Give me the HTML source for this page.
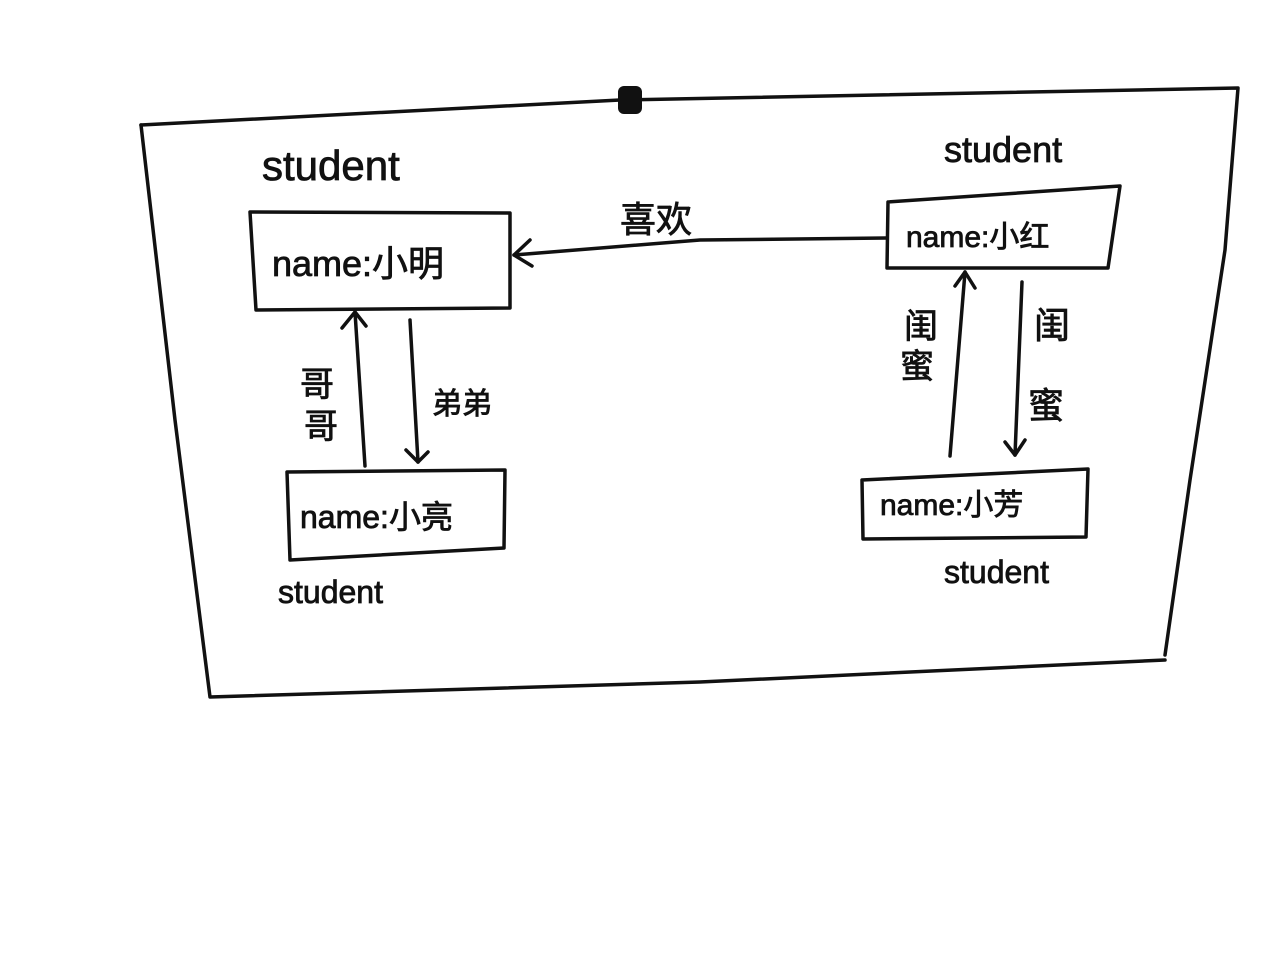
<!DOCTYPE html>
<html><head><meta charset="utf-8"><style>
html,body{margin:0;padding:0;background:#fff;width:1280px;height:960px;overflow:hidden}
text{font-family:"Liberation Sans","Noto Sans CJK SC",sans-serif;fill:#111}
</style></head><body>
<svg width="1280" height="960" viewBox="0 0 1280 960" xmlns="http://www.w3.org/2000/svg">
<g fill="none" stroke="#111" stroke-width="3.5" stroke-linecap="round" stroke-linejoin="round">
<path d="M141,125 L620,100 L1238,88 L1225,250 L1190,480 L1165,655"/>
<path d="M141,125 L175,420 L210,697 L700,682 L1165,660"/>
<path d="M250,212 L510,213 L510,308 L256,310 Z"/>
<path d="M287,472 L505,470 L504,548 L290,560 Z"/>
<path d="M888,202 L1120,186 L1108,268 L887,268 Z"/>
<path d="M862,480 L1088,469 L1086,537 L863,539 Z"/>
<path d="M886,238 L700,240 L514,255"/>
<path d="M530,240 L514,255 L532,266"/>
<path d="M365,466 L355,312"/>
<path d="M342,328 L355,312 L366,326"/>
<path d="M410,320 L418,462"/>
<path d="M406,450 L418,462 L428,452"/>
<path d="M950,456 L965,272"/>
<path d="M955,286 L965,272 L975,288"/>
<path d="M1022,282 L1015,455"/>
<path d="M1005,442 L1015,455 L1025,440"/>
</g>
<rect x="618" y="86" width="24" height="28" rx="6" fill="#111"/>
<g stroke="#111" stroke-width="0.8">
<text x="262" y="180" font-size="42">student</text>
<text x="944" y="162" font-size="36">student</text>
<text x="278" y="603" font-size="32">student</text>
<text x="944" y="583" font-size="32">student</text>
<text x="272" y="276" font-size="36">name:小明</text>
<text x="300" y="528" font-size="32">name:小亮</text>
<text x="906" y="247" font-size="30">name:小红</text>
<text x="880" y="515" font-size="30">name:小芳</text>
<text x="620" y="232" font-size="36">喜欢</text>
<text x="300" y="396" font-size="34">哥</text>
<text x="304" y="438" font-size="34">哥</text>
<text x="432" y="414" font-size="30">弟弟</text>
<text x="904" y="338" font-size="34">闺</text>
<text x="900" y="378" font-size="34">蜜</text>
<text x="1034" y="338" font-size="36">闺</text>
<text x="1028" y="418" font-size="36">蜜</text>
</g>
</svg>
</body></html>
